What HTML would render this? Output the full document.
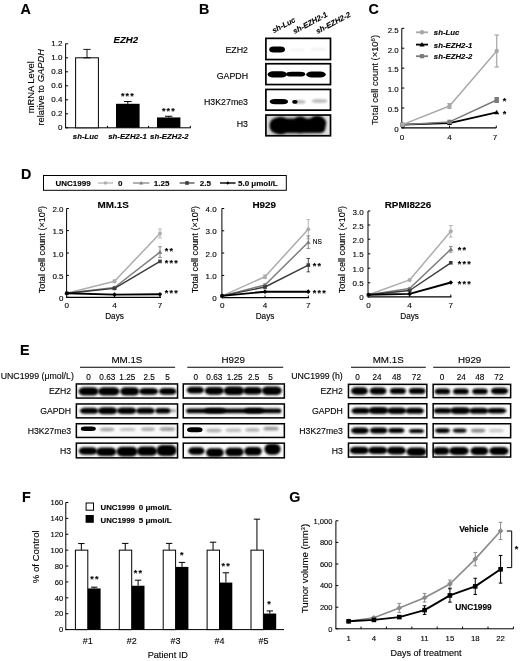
<!DOCTYPE html>
<html><head><meta charset="utf-8"><title>Figure</title>
<style>html,body{margin:0;padding:0;background:#fff;} svg{display:block;} text{font-family:"Liberation Sans", Arial, sans-serif;stroke:#000;stroke-width:0.12px;}</style>
</head><body>
<svg width="520" height="661" viewBox="0 0 520 661">
<defs>
<filter id="b0_6" x="-50%" y="-50%" width="200%" height="200%"><feGaussianBlur stdDeviation="0.6"/></filter>
<filter id="b0_7" x="-50%" y="-50%" width="200%" height="200%"><feGaussianBlur stdDeviation="0.7"/></filter>
<filter id="b0_8" x="-50%" y="-50%" width="200%" height="200%"><feGaussianBlur stdDeviation="0.8"/></filter>
<filter id="b0_9" x="-50%" y="-50%" width="200%" height="200%"><feGaussianBlur stdDeviation="0.9"/></filter>
<filter id="b1_0" x="-50%" y="-50%" width="200%" height="200%"><feGaussianBlur stdDeviation="1.0"/></filter>
<filter id="b1_2" x="-50%" y="-50%" width="200%" height="200%"><feGaussianBlur stdDeviation="1.2"/></filter>
<linearGradient id="h3bg" x1="0" y1="0" x2="1" y2="0"><stop offset="0" stop-color="#d8d8d8"/><stop offset="0.5" stop-color="#c8c8c8"/><stop offset="1" stop-color="#e4e4e4"/></linearGradient>
</defs>
<rect width="520" height="661" fill="#fff"/>
<text x="20.4" y="13.6" font-size="14.3" font-weight="bold">A</text>
<text x="113.6" y="42.7" font-size="9.6" font-weight="bold" font-style="italic">EZH2</text>
<line x1="65.6" y1="43.6" x2="65.6" y2="127.8" stroke="#000" stroke-width="1"/>
<line x1="65.6" y1="127.8" x2="68.1" y2="127.8" stroke="#000" stroke-width="1"/>
<text x="62.4" y="130.4" font-size="8.0" text-anchor="end">0</text>
<line x1="65.6" y1="113.8" x2="68.1" y2="113.8" stroke="#000" stroke-width="1"/>
<text x="62.4" y="116.4" font-size="8.0" text-anchor="end">0.2</text>
<line x1="65.6" y1="99.8" x2="68.1" y2="99.8" stroke="#000" stroke-width="1"/>
<text x="62.4" y="102.4" font-size="8.0" text-anchor="end">0.4</text>
<line x1="65.6" y1="85.8" x2="68.1" y2="85.8" stroke="#000" stroke-width="1"/>
<text x="62.4" y="88.4" font-size="8.0" text-anchor="end">0.6</text>
<line x1="65.6" y1="71.8" x2="68.1" y2="71.8" stroke="#000" stroke-width="1"/>
<text x="62.4" y="74.4" font-size="8.0" text-anchor="end">0.8</text>
<line x1="65.6" y1="57.8" x2="68.1" y2="57.8" stroke="#000" stroke-width="1"/>
<text x="62.4" y="60.4" font-size="8.0" text-anchor="end">1.0</text>
<line x1="65.6" y1="43.8" x2="68.1" y2="43.8" stroke="#000" stroke-width="1"/>
<text x="62.4" y="46.4" font-size="8.0" text-anchor="end">1.2</text>
<line x1="65.1" y1="127.8" x2="190.8" y2="127.8" stroke="#000" stroke-width="1"/>
<line x1="107.5" y1="127.8" x2="107.5" y2="125.8" stroke="#000" stroke-width="1"/>
<line x1="148.5" y1="127.8" x2="148.5" y2="125.8" stroke="#000" stroke-width="1"/>
<line x1="190.3" y1="127.8" x2="190.3" y2="125.8" stroke="#000" stroke-width="1"/>
<rect x="75.6" y="57.8" width="22.8" height="70.0" fill="#fff" stroke="#000" stroke-width="1"/>
<line x1="87.0" y1="57.8" x2="87.0" y2="49.39999999999999" stroke="#000" stroke-width="0.9"/>
<line x1="83.4" y1="57.8" x2="90.6" y2="57.8" stroke="#000" stroke-width="0.9"/>
<line x1="83.4" y1="49.39999999999999" x2="90.6" y2="49.39999999999999" stroke="#000" stroke-width="0.9"/>
<rect x="116.0" y="103.78999999999999" width="23.6" height="24.01" fill="#000" stroke="none" stroke-width="1"/>
<line x1="127.8" y1="103.78999999999999" x2="127.8" y2="101.55" stroke="#000" stroke-width="1"/>
<line x1="124.0" y1="101.55" x2="131.6" y2="101.55" stroke="#000" stroke-width="1"/>
<rect x="157.0" y="117.44" width="23.4" height="10.36" fill="#000" stroke="none" stroke-width="1"/>
<line x1="168.7" y1="117.44" x2="168.7" y2="116.25" stroke="#000" stroke-width="1"/>
<line x1="165.0" y1="116.25" x2="172.4" y2="116.25" stroke="#000" stroke-width="1"/>
<text x="122.7" y="99.3" font-size="9.0" font-weight="bold" text-anchor="middle">*</text>
<text x="127.3" y="99.3" font-size="9.0" font-weight="bold" text-anchor="middle">*</text>
<text x="131.9" y="99.3" font-size="9.0" font-weight="bold" text-anchor="middle">*</text>
<text x="163.7" y="113.7" font-size="9.0" font-weight="bold" text-anchor="middle">*</text>
<text x="168.3" y="113.7" font-size="9.0" font-weight="bold" text-anchor="middle">*</text>
<text x="172.9" y="113.7" font-size="9.0" font-weight="bold" text-anchor="middle">*</text>
<text x="85.6" y="139.2" font-size="7.8" font-weight="bold" font-style="italic" text-anchor="middle">sh-Luc</text>
<text x="127.5" y="139.2" font-size="7.8" font-weight="bold" font-style="italic" text-anchor="middle">sh-EZH2-1</text>
<text x="169.4" y="139.2" font-size="7.8" font-weight="bold" font-style="italic" text-anchor="middle">sh-EZH2-2</text>
<text transform="translate(34.4,87.3) rotate(-90)" font-size="9.4" text-anchor="middle">mRNA Level</text>
<text transform="translate(43.9,87.3) rotate(-90)" font-size="9.4" text-anchor="middle">relative to <tspan font-style="italic">GAPDH</tspan></text>
<text x="198.9" y="13.6" font-size="14.3" font-weight="bold">B</text>
<text x="248.0" y="53.3" font-size="8.8" text-anchor="end">EZH2</text>
<text x="248.0" y="79.0" font-size="8.8" text-anchor="end">GAPDH</text>
<text x="248.0" y="104.7" font-size="8.8" text-anchor="end">H3K27me3</text>
<text x="248.0" y="127.4" font-size="8.8" text-anchor="end">H3</text>
<text transform="translate(273.8,33.3) rotate(-28)" font-size="7.7" font-weight="bold" font-style="italic">sh-Luc</text>
<text transform="translate(294.5,34.1) rotate(-28)" font-size="7.7" font-weight="bold" font-style="italic">sh-EZH2-1</text>
<text transform="translate(317.6,34.1) rotate(-28)" font-size="7.7" font-weight="bold" font-style="italic">sh-EZH2-2</text>
<rect x="265.5" y="114.6" width="65.5" height="21.6" fill="url(#h3bg)"/>
<rect x="269.2" y="46.5" width="15.8" height="6.0" rx="4.4" ry="3.0" fill="#000" opacity="1" filter="url(#b0_7)"/>
<rect x="290.0" y="48.4" width="15.0" height="2.5" rx="4.2" ry="1.2" fill="#000" opacity="0.05" filter="url(#b0_8)"/>
<rect x="310.0" y="48.1" width="16.0" height="2.5" rx="4.5" ry="1.2" fill="#000" opacity="0.06" filter="url(#b0_8)"/>
<rect x="267.6" y="71.3" width="19.4" height="6.2" rx="5.4" ry="3.1" fill="#000" opacity="1" filter="url(#b0_7)"/>
<rect x="286.2" y="71.8" width="19.0" height="4.8" rx="5.3" ry="2.4" fill="#000" opacity="1" filter="url(#b0_7)"/>
<rect x="306.2" y="71.5" width="19.6" height="6.0" rx="5.5" ry="3.0" fill="#000" opacity="1" filter="url(#b0_7)"/>
<rect x="269.8" y="98.9" width="18.2" height="5.4" rx="5.1" ry="2.7" fill="#000" opacity="1" filter="url(#b0_7)"/>
<rect x="292.2" y="99.9" width="5.4" height="3.8" rx="1.9" ry="1.9" fill="#000" opacity="1" filter="url(#b0_6)"/>
<rect x="294.0" y="100.2" width="11.5" height="3.2" rx="3.2" ry="1.6" fill="#000" opacity="0.3" filter="url(#b0_9)"/>
<rect x="311.8" y="99.3" width="15.6" height="3.4" rx="4.4" ry="1.7" fill="#000" opacity="0.28" filter="url(#b1_0)"/>
<g filter="url(#b1_0)">
<rect x="270.4" y="118.4" width="55.0" height="14.6" rx="5" fill="#000"/>
<ellipse cx="280.5" cy="125.6" rx="11" ry="8.8" fill="#000"/>
<ellipse cx="300.2" cy="125.0" rx="8.8" ry="8.4" fill="#000"/>
<ellipse cx="317.2" cy="123.6" rx="9.0" ry="7.8" fill="#000"/>
</g>
<rect x="265.9" y="38.35" width="64.6" height="21.2" fill="none" stroke="#000" stroke-width="1.7"/>
<rect x="265.9" y="63.75" width="64.6" height="20.800000000000008" fill="none" stroke="#000" stroke-width="1.7"/>
<rect x="265.9" y="89.44999999999999" width="64.6" height="20.700000000000006" fill="none" stroke="#000" stroke-width="1.7"/>
<rect x="265.9" y="115.05" width="64.6" height="20.699999999999992" fill="none" stroke="#000" stroke-width="1.7"/>
<text x="368.4" y="13.6" font-size="14.3" font-weight="bold">C</text>
<line x1="401.8" y1="28.3" x2="401.8" y2="127.9" stroke="#000" stroke-width="1"/>
<line x1="401.8" y1="127.9" x2="404.3" y2="127.9" stroke="#000" stroke-width="1"/>
<text x="398.7" y="132.2" font-size="7.9" text-anchor="end">0</text>
<line x1="401.8" y1="107.98" x2="404.3" y2="107.98" stroke="#000" stroke-width="1"/>
<text x="398.7" y="112.28" font-size="7.9" text-anchor="end">0.5</text>
<line x1="401.8" y1="88.06" x2="404.3" y2="88.06" stroke="#000" stroke-width="1"/>
<text x="398.7" y="92.36" font-size="7.9" text-anchor="end">1.0</text>
<line x1="401.8" y1="68.14" x2="404.3" y2="68.14" stroke="#000" stroke-width="1"/>
<text x="398.7" y="72.44" font-size="7.9" text-anchor="end">1.5</text>
<line x1="401.8" y1="48.22" x2="404.3" y2="48.22" stroke="#000" stroke-width="1"/>
<text x="398.7" y="52.52" font-size="7.9" text-anchor="end">2.0</text>
<line x1="401.8" y1="28.299999999999997" x2="404.3" y2="28.299999999999997" stroke="#000" stroke-width="1"/>
<text x="398.7" y="32.6" font-size="7.9" text-anchor="end">2.5</text>
<line x1="401.3" y1="127.9" x2="496.2" y2="127.9" stroke="#000" stroke-width="1.1"/>
<line x1="449.5" y1="127.9" x2="449.5" y2="125.7" stroke="#000" stroke-width="1"/>
<line x1="496.3" y1="127.9" x2="496.3" y2="125.7" stroke="#000" stroke-width="1"/>
<text x="402.0" y="140.0" font-size="8.0" text-anchor="middle">0</text>
<text x="449.4" y="140.0" font-size="8.0" text-anchor="middle">4</text>
<text x="494.9" y="140.0" font-size="8.0" text-anchor="middle">7</text>
<text transform="translate(378.0,80) rotate(-90)" font-size="9.4" text-anchor="middle">Total cell count (×10<tspan font-size="6" dy="-3.3">6</tspan><tspan dy="3.3">)</tspan></text>
<polyline points="402.4,124.7 449.5,123.1 496.7,112.4" fill="none" stroke="#000" stroke-width="1.75" stroke-linejoin="round"/>
<polygon points="402.4,122.2 404.9,126.6 399.9,126.6" fill="#000"/>
<polygon points="449.5,120.6 452.0,125.0 447.0,125.0" fill="#000"/>
<polygon points="496.7,109.8 499.2,114.2 494.2,114.2" fill="#000"/>
<polyline points="402.4,124.7 449.5,121.9 496.7,100.0" fill="none" stroke="#7a7a7a" stroke-width="1.45" stroke-linejoin="round"/>
<rect x="400.2" y="122.5" width="4.4" height="4.4" fill="#7a7a7a"/>
<rect x="447.3" y="119.7" width="4.4" height="4.4" fill="#7a7a7a"/>
<line x1="496.7" y1="97.6216" x2="496.7" y2="102.4024" stroke="#7a7a7a" stroke-width="1.25"/>
<line x1="494.5" y1="97.6216" x2="498.9" y2="97.6216" stroke="#7a7a7a" stroke-width="1.25"/>
<line x1="494.5" y1="102.4024" x2="498.9" y2="102.4024" stroke="#7a7a7a" stroke-width="1.25"/>
<rect x="494.5" y="97.8" width="4.4" height="4.4" fill="#7a7a7a"/>
<polyline points="402.4,124.7 449.5,106.0 496.7,51.0" fill="none" stroke="#a8a8a8" stroke-width="1.45" stroke-linejoin="round"/>
<circle cx="402.4" cy="124.7" r="2.2" fill="#a8a8a8"/>
<line x1="449.5" y1="103.5976" x2="449.5" y2="108.3784" stroke="#a8a8a8" stroke-width="1.25"/>
<line x1="447.3" y1="103.5976" x2="451.7" y2="103.5976" stroke="#a8a8a8" stroke-width="1.25"/>
<line x1="447.3" y1="108.3784" x2="451.7" y2="108.3784" stroke="#a8a8a8" stroke-width="1.25"/>
<circle cx="449.5" cy="106.0" r="2.2" fill="#a8a8a8"/>
<line x1="496.7" y1="35.07280000000001" x2="496.7" y2="66.94480000000001" stroke="#a8a8a8" stroke-width="1.25"/>
<line x1="494.5" y1="35.07280000000001" x2="498.9" y2="35.07280000000001" stroke="#a8a8a8" stroke-width="1.25"/>
<line x1="494.5" y1="66.94480000000001" x2="498.9" y2="66.94480000000001" stroke="#a8a8a8" stroke-width="1.25"/>
<circle cx="496.7" cy="51.0" r="2.2" fill="#a8a8a8"/>
<line x1="416.0" y1="32.3" x2="428.0" y2="32.3" stroke="#a8a8a8" stroke-width="1.8"/>
<circle cx="422.0" cy="32.3" r="2.3" fill="#a8a8a8"/>
<line x1="416.0" y1="44.6" x2="428.0" y2="44.6" stroke="#000" stroke-width="1.8"/>
<polygon points="422.0,42.0 424.6,46.6 419.4,46.6" fill="#000"/>
<line x1="416.0" y1="56.2" x2="428.0" y2="56.2" stroke="#7a7a7a" stroke-width="1.8"/>
<rect x="419.9" y="54.1" width="4.2" height="4.2" fill="#7a7a7a"/>
<text x="433.8" y="34.5" font-size="7.8" font-weight="bold" font-style="italic">sh-Luc</text>
<text x="433.8" y="47.5" font-size="7.8" font-weight="bold" font-style="italic">sh-EZH2-1</text>
<text x="433.8" y="58.8" font-size="7.8" font-weight="bold" font-style="italic">sh-EZH2-2</text>
<text x="504.5" y="104.0" font-size="9.0" font-weight="bold" text-anchor="middle">*</text>
<text x="504.5" y="116.5" font-size="9.0" font-weight="bold" text-anchor="middle">*</text>
<text x="21.0" y="178.8" font-size="14.3" font-weight="bold">D</text>
<rect x="43.5" y="175.5" width="242.8" height="14.8" fill="none" stroke="#000" stroke-width="1"/>
<text x="55.5" y="186.0" font-size="8.0" font-weight="bold">UNC1999</text>
<line x1="98.0" y1="183.0" x2="113.0" y2="183.0" stroke="#adadad" stroke-width="1.2"/>
<circle cx="105.5" cy="183.0" r="1.7" fill="#adadad"/>
<text x="118.0" y="186.0" font-size="8.0" font-weight="bold">0</text>
<line x1="133.0" y1="183.0" x2="149.3" y2="183.0" stroke="#7d7d7d" stroke-width="1.2"/>
<polygon points="141.2,181.0 143.1,184.4 139.2,184.4" fill="#7d7d7d"/>
<text x="153.8" y="186.0" font-size="8.0" font-weight="bold">1.25</text>
<line x1="179.6" y1="183.0" x2="194.5" y2="183.0" stroke="#3c3c3c" stroke-width="1.2"/>
<rect x="185.2" y="181.2" width="3.6" height="3.6" fill="#3c3c3c"/>
<text x="199.8" y="186.0" font-size="8.0" font-weight="bold">2.5</text>
<line x1="220.0" y1="183.0" x2="235.6" y2="183.0" stroke="#000" stroke-width="1.4"/>
<polygon points="227.8,181.3 229.5,183.0 227.8,184.7 226.1,183.0" fill="#000"/>
<text x="238.0" y="186.0" font-size="8.0" font-weight="bold">5.0 μmol/L</text>
<line x1="66.6" y1="208.5" x2="66.6" y2="297.3" stroke="#000" stroke-width="1"/>
<line x1="66.6" y1="297.3" x2="68.89999999999999" y2="297.3" stroke="#000" stroke-width="1"/>
<text x="63.5" y="300.9" font-size="8.0" text-anchor="end">0</text>
<line x1="66.6" y1="275.4" x2="68.89999999999999" y2="275.4" stroke="#000" stroke-width="1"/>
<text x="63.5" y="279.0" font-size="8.0" text-anchor="end">0.5</text>
<line x1="66.6" y1="253.0" x2="68.89999999999999" y2="253.0" stroke="#000" stroke-width="1"/>
<text x="63.5" y="256.6" font-size="8.0" text-anchor="end">1.0</text>
<line x1="66.6" y1="230.6" x2="68.89999999999999" y2="230.6" stroke="#000" stroke-width="1"/>
<text x="63.5" y="234.2" font-size="8.0" text-anchor="end">1.5</text>
<line x1="66.6" y1="208.5" x2="68.89999999999999" y2="208.5" stroke="#000" stroke-width="1"/>
<text x="63.5" y="212.1" font-size="8.0" text-anchor="end">2.0</text>
<line x1="66.1" y1="297.3" x2="161.0" y2="297.3" stroke="#000" stroke-width="1.3"/>
<line x1="114.5" y1="297.3" x2="114.5" y2="295.1" stroke="#000" stroke-width="1"/>
<line x1="160.0" y1="297.3" x2="160.0" y2="295.1" stroke="#000" stroke-width="1"/>
<text x="66.8" y="308.4" font-size="8.1" text-anchor="middle">0</text>
<text x="114.5" y="308.4" font-size="8.1" text-anchor="middle">4</text>
<text x="160.0" y="308.4" font-size="8.1" text-anchor="middle">7</text>
<text x="114.5" y="319.4" font-size="8.2" text-anchor="middle">Days</text>
<text transform="translate(45.4,249.6) rotate(-90)" font-size="9.1" text-anchor="middle">Total cell count (×10<tspan font-size="5.8" dy="-3.2">6</tspan><tspan dy="3.2">)</tspan></text>
<text x="97.6" y="208.2" font-size="9.9" font-weight="bold">MM.1S</text>
<polyline points="66.8,293.3 114.5,281.3 160.0,233.4" fill="none" stroke="#adadad" stroke-width="1.5" stroke-linejoin="round"/>
<line x1="114.5" y1="280.00350000000003" x2="114.5" y2="282.6645" stroke="#adadad" stroke-width="0.9"/>
<line x1="112.7" y1="280.00350000000003" x2="116.3" y2="280.00350000000003" stroke="#adadad" stroke-width="0.9"/>
<line x1="112.7" y1="282.6645" x2="116.3" y2="282.6645" stroke="#adadad" stroke-width="0.9"/>
<line x1="160.0" y1="229.001" x2="160.0" y2="237.871" stroke="#adadad" stroke-width="0.9"/>
<line x1="158.2" y1="229.001" x2="161.8" y2="229.001" stroke="#adadad" stroke-width="0.9"/>
<line x1="158.2" y1="237.871" x2="161.8" y2="237.871" stroke="#adadad" stroke-width="0.9"/>
<circle cx="66.8" cy="293.3" r="2.0" fill="#adadad"/>
<circle cx="114.5" cy="281.3" r="2.0" fill="#adadad"/>
<circle cx="160.0" cy="233.4" r="2.0" fill="#adadad"/>
<polyline points="66.8,293.3 114.5,287.5 160.0,252.1" fill="none" stroke="#7d7d7d" stroke-width="1.5" stroke-linejoin="round"/>
<line x1="114.5" y1="286.656" x2="114.5" y2="288.43" stroke="#7d7d7d" stroke-width="0.9"/>
<line x1="112.7" y1="286.656" x2="116.3" y2="286.656" stroke="#7d7d7d" stroke-width="0.9"/>
<line x1="112.7" y1="288.43" x2="116.3" y2="288.43" stroke="#7d7d7d" stroke-width="0.9"/>
<line x1="160.0" y1="246.741" x2="160.0" y2="257.385" stroke="#7d7d7d" stroke-width="0.9"/>
<line x1="158.2" y1="246.741" x2="161.8" y2="246.741" stroke="#7d7d7d" stroke-width="0.9"/>
<line x1="158.2" y1="257.385" x2="161.8" y2="257.385" stroke="#7d7d7d" stroke-width="0.9"/>
<polygon points="66.8,291.0 69.1,295.0 64.5,295.0" fill="#7d7d7d"/>
<polygon points="114.5,285.2 116.8,289.2 112.2,289.2" fill="#7d7d7d"/>
<polygon points="160.0,249.8 162.3,253.8 157.7,253.8" fill="#7d7d7d"/>
<polyline points="66.8,293.3 114.5,288.4 160.0,261.4" fill="none" stroke="#3c3c3c" stroke-width="1.45" stroke-linejoin="round"/>
<line x1="114.5" y1="287.543" x2="114.5" y2="289.317" stroke="#3c3c3c" stroke-width="0.9"/>
<line x1="112.7" y1="287.543" x2="116.3" y2="287.543" stroke="#3c3c3c" stroke-width="0.9"/>
<line x1="112.7" y1="289.317" x2="116.3" y2="289.317" stroke="#3c3c3c" stroke-width="0.9"/>
<rect x="65.0" y="291.5" width="3.6" height="3.6" fill="#3c3c3c"/>
<rect x="112.7" y="286.6" width="3.6" height="3.6" fill="#3c3c3c"/>
<rect x="158.2" y="259.6" width="3.6" height="3.6" fill="#3c3c3c"/>
<polyline points="66.8,293.3 114.5,294.6 160.0,294.2" fill="none" stroke="#000" stroke-width="1.9" stroke-linejoin="round"/>
<polygon points="66.8,291.0 69.1,293.3 66.8,295.6 64.5,293.3" fill="#000"/>
<polygon points="114.5,292.3 116.8,294.6 114.5,297.0 112.2,294.6" fill="#000"/>
<polygon points="160.0,291.9 162.3,294.2 160.0,296.5 157.7,294.2" fill="#000"/>
<text x="166.5" y="254.1" font-size="9.0" font-weight="bold" text-anchor="middle">*</text>
<text x="171.25" y="254.1" font-size="9.0" font-weight="bold" text-anchor="middle">*</text>
<text x="166.5" y="266.1" font-size="9.0" font-weight="bold" text-anchor="middle">*</text>
<text x="171.25" y="266.1" font-size="9.0" font-weight="bold" text-anchor="middle">*</text>
<text x="176.0" y="266.1" font-size="9.0" font-weight="bold" text-anchor="middle">*</text>
<text x="166.5" y="296.4" font-size="9.0" font-weight="bold" text-anchor="middle">*</text>
<text x="171.25" y="296.4" font-size="9.0" font-weight="bold" text-anchor="middle">*</text>
<text x="176.0" y="296.4" font-size="9.0" font-weight="bold" text-anchor="middle">*</text>
<line x1="221.9" y1="208.5" x2="221.9" y2="297.7" stroke="#000" stroke-width="1"/>
<line x1="221.9" y1="297.7" x2="224.20000000000002" y2="297.7" stroke="#000" stroke-width="1"/>
<text x="216.6" y="301.3" font-size="8.0" text-anchor="end">0</text>
<line x1="221.9" y1="275.4" x2="224.20000000000002" y2="275.4" stroke="#000" stroke-width="1"/>
<text x="216.6" y="279.0" font-size="8.0" text-anchor="end">1.0</text>
<line x1="221.9" y1="253.0" x2="224.20000000000002" y2="253.0" stroke="#000" stroke-width="1"/>
<text x="216.6" y="256.6" font-size="8.0" text-anchor="end">2.0</text>
<line x1="221.9" y1="230.8" x2="224.20000000000002" y2="230.8" stroke="#000" stroke-width="1"/>
<text x="216.6" y="234.4" font-size="8.0" text-anchor="end">3.0</text>
<line x1="221.9" y1="208.5" x2="224.20000000000002" y2="208.5" stroke="#000" stroke-width="1"/>
<text x="216.6" y="212.1" font-size="8.0" text-anchor="end">4.0</text>
<line x1="221.4" y1="297.7" x2="309.0" y2="297.7" stroke="#000" stroke-width="1.3"/>
<line x1="265.0" y1="297.7" x2="265.0" y2="295.5" stroke="#000" stroke-width="1"/>
<line x1="308.3" y1="297.7" x2="308.3" y2="295.5" stroke="#000" stroke-width="1"/>
<text x="222.2" y="308.4" font-size="8.1" text-anchor="middle">0</text>
<text x="265.0" y="308.4" font-size="8.1" text-anchor="middle">4</text>
<text x="308.3" y="308.4" font-size="8.1" text-anchor="middle">7</text>
<text x="265.0" y="319.4" font-size="8.2" text-anchor="middle">Days</text>
<text transform="translate(198.4,249.6) rotate(-90)" font-size="9.1" text-anchor="middle">Total cell count (×10<tspan font-size="5.8" dy="-3.2">6</tspan><tspan dy="3.2">)</tspan></text>
<text x="252.4" y="208.2" font-size="9.9" font-weight="bold">H929</text>
<polyline points="222.2,295.9 265.0,276.7 308.3,229.2" fill="none" stroke="#adadad" stroke-width="1.5" stroke-linejoin="round"/>
<line x1="265.0" y1="274.954" x2="265.0" y2="278.522" stroke="#adadad" stroke-width="0.9"/>
<line x1="263.2" y1="274.954" x2="266.8" y2="274.954" stroke="#adadad" stroke-width="0.9"/>
<line x1="263.2" y1="278.522" x2="266.8" y2="278.522" stroke="#adadad" stroke-width="0.9"/>
<line x1="308.3" y1="219.64999999999998" x2="308.3" y2="238.82799999999997" stroke="#adadad" stroke-width="0.9"/>
<line x1="306.5" y1="219.64999999999998" x2="310.1" y2="219.64999999999998" stroke="#adadad" stroke-width="0.9"/>
<line x1="306.5" y1="238.82799999999997" x2="310.1" y2="238.82799999999997" stroke="#adadad" stroke-width="0.9"/>
<circle cx="222.2" cy="295.9" r="2.0" fill="#adadad"/>
<circle cx="265.0" cy="276.7" r="2.0" fill="#adadad"/>
<circle cx="308.3" cy="229.2" r="2.0" fill="#adadad"/>
<polyline points="222.2,295.9 265.0,285.0 308.3,242.2" fill="none" stroke="#7d7d7d" stroke-width="1.5" stroke-linejoin="round"/>
<line x1="265.0" y1="283.87399999999997" x2="265.0" y2="286.104" stroke="#7d7d7d" stroke-width="0.9"/>
<line x1="263.2" y1="283.87399999999997" x2="266.8" y2="283.87399999999997" stroke="#7d7d7d" stroke-width="0.9"/>
<line x1="263.2" y1="286.104" x2="266.8" y2="286.104" stroke="#7d7d7d" stroke-width="0.9"/>
<line x1="308.3" y1="235.92899999999997" x2="308.3" y2="248.41699999999997" stroke="#7d7d7d" stroke-width="0.9"/>
<line x1="306.5" y1="235.92899999999997" x2="310.1" y2="235.92899999999997" stroke="#7d7d7d" stroke-width="0.9"/>
<line x1="306.5" y1="248.41699999999997" x2="310.1" y2="248.41699999999997" stroke="#7d7d7d" stroke-width="0.9"/>
<polygon points="222.2,293.6 224.5,297.6 219.9,297.6" fill="#7d7d7d"/>
<polygon points="265.0,282.7 267.3,286.7 262.7,286.7" fill="#7d7d7d"/>
<polygon points="308.3,239.9 310.6,243.9 306.0,243.9" fill="#7d7d7d"/>
<polyline points="222.2,295.9 265.0,287.0 308.3,265.1" fill="none" stroke="#3c3c3c" stroke-width="1.45" stroke-linejoin="round"/>
<line x1="265.0" y1="285.881" x2="265.0" y2="288.111" stroke="#3c3c3c" stroke-width="0.9"/>
<line x1="263.2" y1="285.881" x2="266.8" y2="285.881" stroke="#3c3c3c" stroke-width="0.9"/>
<line x1="263.2" y1="288.111" x2="266.8" y2="288.111" stroke="#3c3c3c" stroke-width="0.9"/>
<line x1="308.3" y1="258.452" x2="308.3" y2="271.832" stroke="#3c3c3c" stroke-width="0.9"/>
<line x1="306.5" y1="258.452" x2="310.1" y2="258.452" stroke="#3c3c3c" stroke-width="0.9"/>
<line x1="306.5" y1="271.832" x2="310.1" y2="271.832" stroke="#3c3c3c" stroke-width="0.9"/>
<rect x="220.4" y="294.1" width="3.6" height="3.6" fill="#3c3c3c"/>
<rect x="263.2" y="285.2" width="3.6" height="3.6" fill="#3c3c3c"/>
<rect x="306.5" y="263.3" width="3.6" height="3.6" fill="#3c3c3c"/>
<polyline points="222.2,295.9 265.0,291.7 308.3,291.7" fill="none" stroke="#000" stroke-width="1.9" stroke-linejoin="round"/>
<polygon points="222.2,293.6 224.5,295.9 222.2,298.3 219.9,295.9" fill="#000"/>
<polygon points="265.0,289.3 267.3,291.7 265.0,294.0 262.7,291.7" fill="#000"/>
<polygon points="308.3,289.3 310.6,291.7 308.3,294.0 306.0,291.7" fill="#000"/>
<text x="312.7" y="244.0" font-size="6.6">NS</text>
<text x="314.5" y="269.0" font-size="9.0" font-weight="bold" text-anchor="middle">*</text>
<text x="319.25" y="269.0" font-size="9.0" font-weight="bold" text-anchor="middle">*</text>
<text x="314.5" y="295.6" font-size="9.0" font-weight="bold" text-anchor="middle">*</text>
<text x="319.25" y="295.6" font-size="9.0" font-weight="bold" text-anchor="middle">*</text>
<text x="324.0" y="295.6" font-size="9.0" font-weight="bold" text-anchor="middle">*</text>
<line x1="368.0" y1="211.0" x2="368.0" y2="296.8" stroke="#000" stroke-width="1"/>
<line x1="368.0" y1="296.8" x2="370.3" y2="296.8" stroke="#000" stroke-width="1"/>
<text x="363.6" y="300.4" font-size="8.0" text-anchor="end">0</text>
<line x1="368.0" y1="282.8" x2="370.3" y2="282.8" stroke="#000" stroke-width="1"/>
<text x="363.6" y="286.4" font-size="8.0" text-anchor="end">0.5</text>
<line x1="368.0" y1="268.2" x2="370.3" y2="268.2" stroke="#000" stroke-width="1"/>
<text x="363.6" y="271.8" font-size="8.0" text-anchor="end">1.0</text>
<line x1="368.0" y1="253.8" x2="370.3" y2="253.8" stroke="#000" stroke-width="1"/>
<text x="363.6" y="257.4" font-size="8.0" text-anchor="end">1.5</text>
<line x1="368.0" y1="239.2" x2="370.3" y2="239.2" stroke="#000" stroke-width="1"/>
<text x="363.6" y="242.8" font-size="8.0" text-anchor="end">2.0</text>
<line x1="368.0" y1="225.0" x2="370.3" y2="225.0" stroke="#000" stroke-width="1"/>
<text x="363.6" y="228.6" font-size="8.0" text-anchor="end">2.5</text>
<line x1="368.0" y1="211.0" x2="370.3" y2="211.0" stroke="#000" stroke-width="1"/>
<text x="363.6" y="214.6" font-size="8.0" text-anchor="end">3.0</text>
<line x1="367.5" y1="296.8" x2="451.5" y2="296.8" stroke="#000" stroke-width="1.3"/>
<line x1="409.6" y1="296.8" x2="409.6" y2="294.6" stroke="#000" stroke-width="1"/>
<line x1="450.8" y1="296.8" x2="450.8" y2="294.6" stroke="#000" stroke-width="1"/>
<text x="368.6" y="308.4" font-size="8.1" text-anchor="middle">0</text>
<text x="409.6" y="308.4" font-size="8.1" text-anchor="middle">4</text>
<text x="450.8" y="308.4" font-size="8.1" text-anchor="middle">7</text>
<text x="409.6" y="319.4" font-size="8.2" text-anchor="middle">Days</text>
<text transform="translate(345.4,249.6) rotate(-90)" font-size="9.1" text-anchor="middle">Total cell count (×10<tspan font-size="5.8" dy="-3.2">6</tspan><tspan dy="3.2">)</tspan></text>
<text x="384.7" y="208.2" font-size="9.9" font-weight="bold">RPMI8226</text>
<polyline points="368.6,294.8 409.6,279.9 450.8,231.3" fill="none" stroke="#adadad" stroke-width="1.5" stroke-linejoin="round"/>
<line x1="409.6" y1="279.068" x2="409.6" y2="280.784" stroke="#adadad" stroke-width="0.9"/>
<line x1="407.8" y1="279.068" x2="411.40000000000003" y2="279.068" stroke="#adadad" stroke-width="0.9"/>
<line x1="407.8" y1="280.784" x2="411.40000000000003" y2="280.784" stroke="#adadad" stroke-width="0.9"/>
<line x1="450.8" y1="225.586" x2="450.8" y2="237.026" stroke="#adadad" stroke-width="0.9"/>
<line x1="449.0" y1="225.586" x2="452.6" y2="225.586" stroke="#adadad" stroke-width="0.9"/>
<line x1="449.0" y1="237.026" x2="452.6" y2="237.026" stroke="#adadad" stroke-width="0.9"/>
<circle cx="368.6" cy="294.8" r="2.0" fill="#adadad"/>
<circle cx="409.6" cy="279.9" r="2.0" fill="#adadad"/>
<circle cx="450.8" cy="231.3" r="2.0" fill="#adadad"/>
<polyline points="368.6,294.8 409.6,288.5 450.8,249.3" fill="none" stroke="#7d7d7d" stroke-width="1.5" stroke-linejoin="round"/>
<line x1="409.6" y1="287.648" x2="409.6" y2="289.36400000000003" stroke="#7d7d7d" stroke-width="0.9"/>
<line x1="407.8" y1="287.648" x2="411.40000000000003" y2="287.648" stroke="#7d7d7d" stroke-width="0.9"/>
<line x1="407.8" y1="289.36400000000003" x2="411.40000000000003" y2="289.36400000000003" stroke="#7d7d7d" stroke-width="0.9"/>
<line x1="450.8" y1="246.464" x2="450.8" y2="252.18400000000003" stroke="#7d7d7d" stroke-width="0.9"/>
<line x1="449.0" y1="246.464" x2="452.6" y2="246.464" stroke="#7d7d7d" stroke-width="0.9"/>
<line x1="449.0" y1="252.18400000000003" x2="452.6" y2="252.18400000000003" stroke="#7d7d7d" stroke-width="0.9"/>
<polygon points="368.6,292.5 370.9,296.5 366.3,296.5" fill="#7d7d7d"/>
<polygon points="409.6,286.2 411.9,290.2 407.3,290.2" fill="#7d7d7d"/>
<polygon points="450.8,247.0 453.1,251.0 448.5,251.0" fill="#7d7d7d"/>
<polyline points="368.6,294.8 409.6,290.5 450.8,262.8" fill="none" stroke="#3c3c3c" stroke-width="1.45" stroke-linejoin="round"/>
<line x1="409.6" y1="289.93600000000004" x2="409.6" y2="291.08000000000004" stroke="#3c3c3c" stroke-width="0.9"/>
<line x1="407.8" y1="289.93600000000004" x2="411.40000000000003" y2="289.93600000000004" stroke="#3c3c3c" stroke-width="0.9"/>
<line x1="407.8" y1="291.08000000000004" x2="411.40000000000003" y2="291.08000000000004" stroke="#3c3c3c" stroke-width="0.9"/>
<rect x="366.8" y="293.0" width="3.6" height="3.6" fill="#3c3c3c"/>
<rect x="407.8" y="288.7" width="3.6" height="3.6" fill="#3c3c3c"/>
<rect x="449.0" y="261.0" width="3.6" height="3.6" fill="#3c3c3c"/>
<polyline points="368.6,294.8 409.6,293.9 450.8,282.5" fill="none" stroke="#000" stroke-width="1.9" stroke-linejoin="round"/>
<polygon points="368.6,292.5 370.9,294.8 368.6,297.1 366.3,294.8" fill="#000"/>
<polygon points="409.6,291.6 411.9,293.9 409.6,296.3 407.3,293.9" fill="#000"/>
<polygon points="450.8,280.2 453.1,282.5 450.8,284.8 448.5,282.5" fill="#000"/>
<text x="459.6" y="253.2" font-size="9.0" font-weight="bold" text-anchor="middle">*</text>
<text x="464.35" y="253.2" font-size="9.0" font-weight="bold" text-anchor="middle">*</text>
<text x="459.6" y="266.7" font-size="9.0" font-weight="bold" text-anchor="middle">*</text>
<text x="464.35" y="266.7" font-size="9.0" font-weight="bold" text-anchor="middle">*</text>
<text x="469.1" y="266.7" font-size="9.0" font-weight="bold" text-anchor="middle">*</text>
<text x="459.6" y="286.9" font-size="9.0" font-weight="bold" text-anchor="middle">*</text>
<text x="464.35" y="286.9" font-size="9.0" font-weight="bold" text-anchor="middle">*</text>
<text x="469.1" y="286.9" font-size="9.0" font-weight="bold" text-anchor="middle">*</text>
<text x="20.1" y="354.6" font-size="14.3" font-weight="bold">E</text>
<text x="73.8" y="379.2" font-size="8.75" text-anchor="end">UNC1999 (μmol/L)</text>
<text x="342.8" y="379.2" font-size="8.75" text-anchor="end">UNC1999 (h)</text>
<text x="71.1" y="394.2" font-size="8.7" text-anchor="end">EZH2</text>
<text x="342.8" y="394.2" font-size="8.7" text-anchor="end">EZH2</text>
<text x="71.1" y="414.4" font-size="8.7" text-anchor="end">GAPDH</text>
<text x="342.8" y="414.4" font-size="8.7" text-anchor="end">GAPDH</text>
<text x="71.1" y="434.4" font-size="8.7" text-anchor="end">H3K27me3</text>
<text x="342.8" y="434.4" font-size="8.7" text-anchor="end">H3K27me3</text>
<text x="71.1" y="454.4" font-size="8.7" text-anchor="end">H3</text>
<text x="342.8" y="454.4" font-size="8.7" text-anchor="end">H3</text>
<text x="126.9" y="362.7" font-size="9.8" text-anchor="middle">MM.1S</text>
<line x1="80.0" y1="367.2" x2="175.1" y2="367.2" stroke="#000" stroke-width="1.1"/>
<text x="233.2" y="362.7" font-size="9.8" text-anchor="middle">H929</text>
<line x1="187.3" y1="367.2" x2="283.2" y2="367.2" stroke="#000" stroke-width="1.1"/>
<text x="388.2" y="362.7" font-size="9.8" text-anchor="middle">MM.1S</text>
<line x1="351.0" y1="367.2" x2="425.8" y2="367.2" stroke="#000" stroke-width="1.1"/>
<text x="469.6" y="362.7" font-size="9.8" text-anchor="middle">H929</text>
<line x1="433.2" y1="367.2" x2="510.0" y2="367.2" stroke="#000" stroke-width="1.1"/>
<text x="88.5" y="380.3" font-size="8.2" text-anchor="middle">0</text>
<text x="107.3" y="380.3" font-size="8.2" text-anchor="middle">0.63</text>
<text x="127.3" y="380.3" font-size="8.2" text-anchor="middle">1.25</text>
<text x="149.1" y="380.3" font-size="8.2" text-anchor="middle">2.5</text>
<text x="167.5" y="380.3" font-size="8.2" text-anchor="middle">5</text>
<text x="195.9" y="380.3" font-size="8.2" text-anchor="middle">0</text>
<text x="214.3" y="380.3" font-size="8.2" text-anchor="middle">0.63</text>
<text x="234.7" y="380.3" font-size="8.2" text-anchor="middle">1.25</text>
<text x="253.6" y="380.3" font-size="8.2" text-anchor="middle">2.5</text>
<text x="270.5" y="380.3" font-size="8.2" text-anchor="middle">5</text>
<text x="357.5" y="380.3" font-size="8.2" text-anchor="middle">0</text>
<text x="377.0" y="380.3" font-size="8.2" text-anchor="middle">24</text>
<text x="396.5" y="380.3" font-size="8.2" text-anchor="middle">48</text>
<text x="416.4" y="380.3" font-size="8.2" text-anchor="middle">72</text>
<text x="442.0" y="380.3" font-size="8.2" text-anchor="middle">0</text>
<text x="461.2" y="380.3" font-size="8.2" text-anchor="middle">24</text>
<text x="479.7" y="380.3" font-size="8.2" text-anchor="middle">48</text>
<text x="498.9" y="380.3" font-size="8.2" text-anchor="middle">72</text>
<rect x="76.35" y="383.95" width="101.20000000000002" height="14.100000000000023" fill="#fafafa" stroke="#000" stroke-width="1.5"/>
<rect x="76.35" y="403.95" width="101.20000000000002" height="13.900000000000034" fill="#fafafa" stroke="#000" stroke-width="1.5"/>
<rect x="76.35" y="423.75" width="101.20000000000002" height="13.699999999999989" fill="#fafafa" stroke="#000" stroke-width="1.5"/>
<rect x="76.35" y="443.15" width="101.20000000000002" height="14.700000000000045" fill="#fafafa" stroke="#000" stroke-width="1.5"/>
<rect x="78.6" y="387.2" width="20.0" height="8.4" rx="5.6" ry="4.2" fill="#000" opacity="1" filter="url(#b0_8)"/>
<rect x="98.0" y="387.2" width="21.6" height="8.4" rx="6.0" ry="4.2" fill="#000" opacity="1" filter="url(#b0_8)"/>
<rect x="120.2" y="387.2" width="19.0" height="8.4" rx="5.3" ry="4.2" fill="#000" opacity="1" filter="url(#b0_8)"/>
<rect x="139.0" y="388.0" width="19.2" height="6.8" rx="5.4" ry="3.4" fill="#000" opacity="1" filter="url(#b0_8)"/>
<rect x="159.0" y="388.0" width="17.4" height="6.8" rx="4.9" ry="3.4" fill="#000" opacity="1" filter="url(#b0_8)"/>
<rect x="79.8" y="407.8" width="18.8" height="6.0" rx="5.3" ry="3.0" fill="#000" opacity="1" filter="url(#b0_8)"/>
<rect x="97.8" y="407.3" width="19.6" height="7.0" rx="5.5" ry="3.5" fill="#000" opacity="1" filter="url(#b0_8)"/>
<rect x="116.8" y="407.6" width="19.8" height="6.4" rx="5.5" ry="3.2" fill="#000" opacity="1" filter="url(#b0_8)"/>
<rect x="136.0" y="407.8" width="19.0" height="6.0" rx="5.3" ry="3.0" fill="#000" opacity="1" filter="url(#b0_8)"/>
<rect x="155.2" y="408.0" width="15.2" height="5.6" rx="4.3" ry="2.8" fill="#000" opacity="1" filter="url(#b0_8)"/>
<rect x="168.0" y="409.3" width="8.5" height="3.0" rx="2.4" ry="1.5" fill="#000" opacity="0.35" filter="url(#b0_9)"/>
<rect x="80.8" y="426.5" width="15.0" height="4.4" rx="4.2" ry="2.2" fill="#000" opacity="1" filter="url(#b0_7)"/>
<rect x="99.8" y="427.8" width="14.4" height="3.4" rx="4.0" ry="1.7" fill="#000" opacity="0.33" filter="url(#b0_9)"/>
<rect x="119.6" y="427.9" width="16.0" height="3.2" rx="4.5" ry="1.6" fill="#000" opacity="0.22" filter="url(#b0_9)"/>
<rect x="141.0" y="427.6" width="14.0" height="3.4" rx="3.9" ry="1.7" fill="#000" opacity="0.3" filter="url(#b0_9)"/>
<rect x="159.4" y="427.3" width="15.8" height="3.6" rx="4.4" ry="1.8" fill="#000" opacity="0.36" filter="url(#b0_9)"/>
<rect x="78.8" y="447.2" width="18.4" height="7.6" rx="5.2" ry="3.8" fill="#000" opacity="1" filter="url(#b0_9)"/>
<rect x="96.0" y="447.5" width="20.4" height="8.6" rx="5.7" ry="4.3" fill="#000" opacity="1" filter="url(#b0_9)"/>
<rect x="116.4" y="446.8" width="21.4" height="9.6" rx="6.0" ry="4.8" fill="#000" opacity="1" filter="url(#b0_9)"/>
<rect x="136.8" y="446.6" width="20.4" height="9.2" rx="5.7" ry="4.6" fill="#000" opacity="1" filter="url(#b0_9)"/>
<rect x="156.4" y="444.9" width="20.2" height="11.0" rx="5.7" ry="5.5" fill="#000" opacity="1" filter="url(#b0_9)"/>
<rect x="183.25" y="383.95" width="101.10000000000002" height="14.100000000000023" fill="#fafafa" stroke="#000" stroke-width="1.5"/>
<rect x="183.25" y="403.95" width="101.10000000000002" height="13.900000000000034" fill="#fafafa" stroke="#000" stroke-width="1.5"/>
<rect x="183.25" y="423.75" width="101.10000000000002" height="13.699999999999989" fill="#fafafa" stroke="#000" stroke-width="1.5"/>
<rect x="183.25" y="443.15" width="101.10000000000002" height="14.700000000000045" fill="#fafafa" stroke="#000" stroke-width="1.5"/>
<rect x="186.8" y="386.8" width="17.2" height="6.8" rx="4.8" ry="3.4" fill="#000" opacity="1" filter="url(#b0_8)"/>
<rect x="204.6" y="386.9" width="19.4" height="7.8" rx="5.4" ry="3.9" fill="#000" opacity="1" filter="url(#b0_8)"/>
<rect x="223.6" y="386.6" width="20.8" height="8.4" rx="5.8" ry="4.2" fill="#000" opacity="1" filter="url(#b0_8)"/>
<rect x="243.0" y="387.1" width="19.2" height="7.4" rx="5.4" ry="3.7" fill="#000" opacity="1" filter="url(#b0_8)"/>
<rect x="261.8" y="386.6" width="20.0" height="8.4" rx="5.6" ry="4.2" fill="#000" opacity="1" filter="url(#b0_8)"/>
<rect x="186.2" y="408.6" width="95.2" height="4.6" rx="3.0" ry="2.3" fill="#000" opacity="1" filter="url(#b0_8)"/>
<rect x="204.0" y="407.9" width="22.0" height="5.4" rx="6.2" ry="2.7" fill="#000" opacity="1" filter="url(#b0_9)"/>
<rect x="244.0" y="408.0" width="20.0" height="5.2" rx="5.6" ry="2.6" fill="#000" opacity="1" filter="url(#b0_9)"/>
<rect x="187.0" y="427.2" width="15.6" height="5.0" rx="4.4" ry="2.5" fill="#000" opacity="1" filter="url(#b0_7)"/>
<rect x="206.2" y="428.8" width="15.4" height="3.4" rx="4.3" ry="1.7" fill="#000" opacity="0.3" filter="url(#b0_9)"/>
<rect x="225.4" y="428.6" width="16.2" height="3.4" rx="4.5" ry="1.7" fill="#000" opacity="0.24" filter="url(#b0_9)"/>
<rect x="245.4" y="428.2" width="14.2" height="3.4" rx="4.0" ry="1.7" fill="#000" opacity="0.3" filter="url(#b0_9)"/>
<rect x="263.4" y="426.8" width="15.2" height="3.8" rx="4.3" ry="1.9" fill="#000" opacity="0.38" filter="url(#b0_9)"/>
<rect x="188.2" y="447.3" width="16.4" height="7.4" rx="4.6" ry="3.7" fill="#000" opacity="1" filter="url(#b0_9)"/>
<rect x="206.0" y="448.3" width="17.8" height="8.6" rx="5.0" ry="4.3" fill="#000" opacity="1" filter="url(#b0_9)"/>
<rect x="225.2" y="447.8" width="18.6" height="8.4" rx="5.2" ry="4.2" fill="#000" opacity="1" filter="url(#b0_9)"/>
<rect x="244.2" y="447.0" width="17.6" height="8.4" rx="4.9" ry="4.2" fill="#000" opacity="1" filter="url(#b0_9)"/>
<rect x="264.4" y="443.7" width="16.2" height="11.0" rx="5.5" ry="5.5" fill="#000" opacity="1" filter="url(#b0_9)"/>
<rect x="348.45" y="384.35" width="78.40000000000003" height="13.299999999999955" fill="#fafafa" stroke="#000" stroke-width="1.5"/>
<rect x="348.45" y="403.75" width="78.40000000000003" height="14.100000000000023" fill="#fafafa" stroke="#000" stroke-width="1.5"/>
<rect x="348.45" y="423.75" width="78.40000000000003" height="13.899999999999977" fill="#fafafa" stroke="#000" stroke-width="1.5"/>
<rect x="348.45" y="443.15" width="78.40000000000003" height="13.900000000000034" fill="#fafafa" stroke="#000" stroke-width="1.5"/>
<rect x="351.0" y="387.3" width="17.0" height="7.4" rx="4.8" ry="3.7" fill="#000" opacity="1" filter="url(#b0_8)"/>
<rect x="369.6" y="387.5" width="17.0" height="7.0" rx="4.8" ry="3.5" fill="#000" opacity="1" filter="url(#b0_8)"/>
<rect x="389.8" y="387.9" width="16.2" height="6.2" rx="4.5" ry="3.1" fill="#000" opacity="1" filter="url(#b0_8)"/>
<rect x="408.8" y="387.9" width="16.6" height="6.2" rx="4.6" ry="3.1" fill="#000" opacity="1" filter="url(#b0_8)"/>
<rect x="351.4" y="407.8" width="18.6" height="6.0" rx="5.2" ry="3.0" fill="#000" opacity="1" filter="url(#b0_8)"/>
<rect x="368.4" y="407.0" width="20.2" height="7.0" rx="5.7" ry="3.5" fill="#000" opacity="1" filter="url(#b0_8)"/>
<rect x="387.0" y="407.6" width="19.6" height="6.4" rx="5.5" ry="3.2" fill="#000" opacity="1" filter="url(#b0_8)"/>
<rect x="405.4" y="407.8" width="18.6" height="6.0" rx="5.2" ry="3.0" fill="#000" opacity="1" filter="url(#b0_8)"/>
<rect x="351.0" y="427.5" width="17.8" height="6.2" rx="5.0" ry="3.1" fill="#000" opacity="1" filter="url(#b0_8)"/>
<rect x="370.0" y="427.6" width="17.4" height="6.0" rx="4.9" ry="3.0" fill="#000" opacity="1" filter="url(#b0_8)"/>
<rect x="388.2" y="428.1" width="16.2" height="5.0" rx="4.5" ry="2.5" fill="#000" opacity="1" filter="url(#b0_8)"/>
<rect x="409.0" y="429.0" width="15.0" height="4.0" rx="4.2" ry="2.0" fill="#000" opacity="1" filter="url(#b0_8)"/>
<rect x="349.8" y="446.7" width="19.0" height="7.4" rx="5.3" ry="3.7" fill="#000" opacity="1" filter="url(#b0_9)"/>
<rect x="368.2" y="446.7" width="19.2" height="7.4" rx="5.4" ry="3.7" fill="#000" opacity="1" filter="url(#b0_9)"/>
<rect x="386.8" y="446.8" width="19.2" height="7.6" rx="5.4" ry="3.8" fill="#000" opacity="1" filter="url(#b0_9)"/>
<rect x="406.4" y="447.6" width="20.0" height="8.4" rx="5.6" ry="4.2" fill="#000" opacity="1" filter="url(#b0_9)"/>
<rect x="433.15" y="384.35" width="77.5" height="13.299999999999955" fill="#fafafa" stroke="#000" stroke-width="1.5"/>
<rect x="433.15" y="403.75" width="77.5" height="14.100000000000023" fill="#fafafa" stroke="#000" stroke-width="1.5"/>
<rect x="433.15" y="423.75" width="77.5" height="13.899999999999977" fill="#fafafa" stroke="#000" stroke-width="1.5"/>
<rect x="433.15" y="443.15" width="77.5" height="13.900000000000034" fill="#fafafa" stroke="#000" stroke-width="1.5"/>
<rect x="434.8" y="388.5" width="15.4" height="5.8" rx="4.3" ry="2.9" fill="#000" opacity="1" filter="url(#b0_8)"/>
<rect x="453.0" y="388.5" width="15.8" height="5.8" rx="4.4" ry="2.9" fill="#000" opacity="1" filter="url(#b0_8)"/>
<rect x="472.2" y="388.6" width="15.6" height="5.6" rx="4.4" ry="2.8" fill="#000" opacity="1" filter="url(#b0_8)"/>
<rect x="490.8" y="387.8" width="17.4" height="6.4" rx="4.9" ry="3.2" fill="#000" opacity="1" filter="url(#b0_8)"/>
<rect x="433.8" y="408.0" width="17.8" height="5.6" rx="5.0" ry="2.8" fill="#000" opacity="1" filter="url(#b0_8)"/>
<rect x="450.0" y="407.3" width="20.4" height="6.6" rx="5.7" ry="3.3" fill="#000" opacity="1" filter="url(#b0_8)"/>
<rect x="469.0" y="407.8" width="19.6" height="6.0" rx="5.5" ry="3.0" fill="#000" opacity="1" filter="url(#b0_8)"/>
<rect x="487.0" y="408.0" width="19.4" height="5.6" rx="5.4" ry="2.8" fill="#000" opacity="1" filter="url(#b0_8)"/>
<rect x="435.2" y="428.3" width="14.6" height="4.6" rx="4.1" ry="2.3" fill="#000" opacity="1.0" filter="url(#b0_8)"/>
<rect x="452.8" y="428.5" width="13.8" height="4.2" rx="3.9" ry="2.1" fill="#000" opacity="0.95" filter="url(#b0_8)"/>
<rect x="470.8" y="428.8" width="14.6" height="3.6" rx="4.1" ry="1.8" fill="#000" opacity="0.45" filter="url(#b0_8)"/>
<rect x="488.6" y="428.9" width="15.2" height="3.4" rx="4.3" ry="1.7" fill="#000" opacity="0.2" filter="url(#b0_8)"/>
<rect x="433.0" y="447.2" width="16.4" height="7.6" rx="4.6" ry="3.8" fill="#000" opacity="1" filter="url(#b0_9)"/>
<rect x="449.0" y="447.1" width="19.8" height="7.8" rx="5.5" ry="3.9" fill="#000" opacity="1" filter="url(#b0_9)"/>
<rect x="470.4" y="447.0" width="18.0" height="8.0" rx="5.0" ry="4.0" fill="#000" opacity="1" filter="url(#b0_9)"/>
<rect x="489.2" y="447.0" width="19.4" height="8.0" rx="5.4" ry="4.0" fill="#000" opacity="1" filter="url(#b0_9)"/>
<text x="22.0" y="501.6" font-size="14.3" font-weight="bold">F</text>
<line x1="65.8" y1="502.5" x2="65.8" y2="629.6" stroke="#000" stroke-width="1"/>
<line x1="65.8" y1="629.6" x2="68.3" y2="629.6" stroke="#000" stroke-width="1"/>
<text x="63.2" y="632.34" font-size="7.6" text-anchor="end">0</text>
<line x1="65.8" y1="613.71" x2="68.3" y2="613.71" stroke="#000" stroke-width="1"/>
<text x="63.2" y="616.45" font-size="7.6" text-anchor="end">20</text>
<line x1="65.8" y1="597.82" x2="68.3" y2="597.82" stroke="#000" stroke-width="1"/>
<text x="63.2" y="600.56" font-size="7.6" text-anchor="end">40</text>
<line x1="65.8" y1="581.9300000000001" x2="68.3" y2="581.9300000000001" stroke="#000" stroke-width="1"/>
<text x="63.2" y="584.67" font-size="7.6" text-anchor="end">60</text>
<line x1="65.8" y1="566.04" x2="68.3" y2="566.04" stroke="#000" stroke-width="1"/>
<text x="63.2" y="568.78" font-size="7.6" text-anchor="end">80</text>
<line x1="65.8" y1="550.15" x2="68.3" y2="550.15" stroke="#000" stroke-width="1"/>
<text x="63.2" y="552.89" font-size="7.6" text-anchor="end">100</text>
<line x1="65.8" y1="534.26" x2="68.3" y2="534.26" stroke="#000" stroke-width="1"/>
<text x="63.2" y="537.0" font-size="7.6" text-anchor="end">120</text>
<line x1="65.8" y1="518.37" x2="68.3" y2="518.37" stroke="#000" stroke-width="1"/>
<text x="63.2" y="521.11" font-size="7.6" text-anchor="end">140</text>
<line x1="65.8" y1="502.48" x2="68.3" y2="502.48" stroke="#000" stroke-width="1"/>
<text x="63.2" y="505.22" font-size="7.6" text-anchor="end">160</text>
<line x1="65.3" y1="629.6" x2="284.0" y2="629.6" stroke="#000" stroke-width="1"/>
<line x1="81.35000000000001" y1="550.15" x2="81.35000000000001" y2="543.55565" stroke="#000" stroke-width="1"/>
<line x1="78.15" y1="543.55565" x2="84.55000000000001" y2="543.55565" stroke="#000" stroke-width="1"/>
<line x1="94.20000000000002" y1="588.4449000000001" x2="94.20000000000002" y2="587.1737" stroke="#000" stroke-width="1"/>
<line x1="91.00000000000001" y1="587.1737" x2="97.40000000000002" y2="587.1737" stroke="#000" stroke-width="1"/>
<rect x="75.4" y="550.15" width="12.4" height="79.45" fill="#fff" stroke="#000" stroke-width="1"/>
<rect x="87.80000000000001" y="588.4449000000001" width="12.8" height="41.1551" fill="#000" stroke="none" stroke-width="1"/>
<text x="87.80000000000001" y="644.4" font-size="9.0" text-anchor="middle">#1</text>
<line x1="125.25000000000001" y1="550.15" x2="125.25000000000001" y2="543.39675" stroke="#000" stroke-width="1"/>
<line x1="122.05000000000001" y1="543.39675" x2="128.45000000000002" y2="543.39675" stroke="#000" stroke-width="1"/>
<line x1="138.10000000000002" y1="585.7436" x2="138.10000000000002" y2="580.1821" stroke="#000" stroke-width="1"/>
<line x1="134.90000000000003" y1="580.1821" x2="141.3" y2="580.1821" stroke="#000" stroke-width="1"/>
<rect x="119.30000000000001" y="550.15" width="12.4" height="79.45" fill="#fff" stroke="#000" stroke-width="1"/>
<rect x="131.70000000000002" y="585.7436" width="12.8" height="43.8564" fill="#000" stroke="none" stroke-width="1"/>
<text x="131.70000000000002" y="644.4" font-size="9.0" text-anchor="middle">#2</text>
<line x1="169.14999999999998" y1="550.15" x2="169.14999999999998" y2="543.39675" stroke="#000" stroke-width="1"/>
<line x1="165.95" y1="543.39675" x2="172.34999999999997" y2="543.39675" stroke="#000" stroke-width="1"/>
<line x1="182.0" y1="566.91395" x2="182.0" y2="562.3853" stroke="#000" stroke-width="1"/>
<line x1="178.8" y1="562.3853" x2="185.2" y2="562.3853" stroke="#000" stroke-width="1"/>
<rect x="163.2" y="550.15" width="12.4" height="79.45" fill="#fff" stroke="#000" stroke-width="1"/>
<rect x="175.6" y="566.91395" width="12.8" height="62.68605" fill="#000" stroke="none" stroke-width="1"/>
<text x="175.6" y="644.4" font-size="9.0" text-anchor="middle">#3</text>
<line x1="213.04999999999998" y1="550.15" x2="213.04999999999998" y2="542.205" stroke="#000" stroke-width="1"/>
<line x1="209.85" y1="542.205" x2="216.24999999999997" y2="542.205" stroke="#000" stroke-width="1"/>
<line x1="225.9" y1="582.5656" x2="225.9" y2="572.7932500000001" stroke="#000" stroke-width="1"/>
<line x1="222.70000000000002" y1="572.7932500000001" x2="229.1" y2="572.7932500000001" stroke="#000" stroke-width="1"/>
<rect x="207.1" y="550.15" width="12.4" height="79.45" fill="#fff" stroke="#000" stroke-width="1"/>
<rect x="219.5" y="582.5656" width="12.8" height="47.0344" fill="#000" stroke="none" stroke-width="1"/>
<text x="219.5" y="644.4" font-size="9.0" text-anchor="middle">#4</text>
<line x1="256.95" y1="550.15" x2="256.95" y2="519.1645" stroke="#000" stroke-width="1"/>
<line x1="253.75" y1="519.1645" x2="260.15" y2="519.1645" stroke="#000" stroke-width="1"/>
<line x1="269.79999999999995" y1="613.5511" x2="269.79999999999995" y2="610.92925" stroke="#000" stroke-width="1"/>
<line x1="266.59999999999997" y1="610.92925" x2="272.99999999999994" y2="610.92925" stroke="#000" stroke-width="1"/>
<rect x="251.0" y="550.15" width="12.4" height="79.45" fill="#fff" stroke="#000" stroke-width="1"/>
<rect x="263.4" y="613.5511" width="12.8" height="16.0489" fill="#000" stroke="none" stroke-width="1"/>
<text x="263.4" y="644.4" font-size="9.0" text-anchor="middle">#5</text>
<text x="92.0" y="582.3" font-size="9.0" font-weight="bold" text-anchor="middle">*</text>
<text x="96.75" y="582.3" font-size="9.0" font-weight="bold" text-anchor="middle">*</text>
<text x="135.6" y="576.3" font-size="9.0" font-weight="bold" text-anchor="middle">*</text>
<text x="140.35" y="576.3" font-size="9.0" font-weight="bold" text-anchor="middle">*</text>
<text x="181.8" y="557.5" font-size="9.0" font-weight="bold" text-anchor="middle">*</text>
<text x="223.2" y="568.5" font-size="9.0" font-weight="bold" text-anchor="middle">*</text>
<text x="227.95" y="568.5" font-size="9.0" font-weight="bold" text-anchor="middle">*</text>
<text x="269.0" y="607.0" font-size="9.0" font-weight="bold" text-anchor="middle">*</text>
<text x="167.8" y="657.8" font-size="9.2" text-anchor="middle">Patient ID</text>
<text transform="translate(38.6,556.8) rotate(-90)" font-size="9.6" text-anchor="middle">% of Control</text>
<rect x="86.1" y="503.0" width="7.4" height="7.2" fill="#fff" stroke="#000" stroke-width="1"/>
<rect x="85.6" y="515.0" width="8.2" height="7.8" fill="#000" stroke="none" stroke-width="1"/>
<text x="100.6" y="509.6" font-size="7.8" font-weight="bold">UNC1999</text>
<text x="138.8" y="509.6" font-size="8.0" font-weight="bold">0 μmol/L</text>
<text x="100.6" y="522.6" font-size="7.8" font-weight="bold">UNC1999</text>
<text x="138.8" y="522.6" font-size="8.0" font-weight="bold">5 μmol/L</text>
<text x="289.3" y="501.8" font-size="14.3" font-weight="bold">G</text>
<line x1="335.9" y1="520.8" x2="335.9" y2="628.8" stroke="#000" stroke-width="1"/>
<line x1="335.9" y1="628.8" x2="338.4" y2="628.8" stroke="#000" stroke-width="1"/>
<text x="332.4" y="631.5" font-size="7.5" text-anchor="end">0</text>
<line x1="335.9" y1="607.1999999999999" x2="338.4" y2="607.1999999999999" stroke="#000" stroke-width="1"/>
<text x="332.4" y="609.9" font-size="7.5" text-anchor="end">200</text>
<line x1="335.9" y1="585.5999999999999" x2="338.4" y2="585.5999999999999" stroke="#000" stroke-width="1"/>
<text x="332.4" y="588.3" font-size="7.5" text-anchor="end">400</text>
<line x1="335.9" y1="564.0" x2="338.4" y2="564.0" stroke="#000" stroke-width="1"/>
<text x="332.4" y="566.7" font-size="7.5" text-anchor="end">600</text>
<line x1="335.9" y1="542.4" x2="338.4" y2="542.4" stroke="#000" stroke-width="1"/>
<text x="332.4" y="545.1" font-size="7.5" text-anchor="end">800</text>
<line x1="335.9" y1="520.8" x2="338.4" y2="520.8" stroke="#000" stroke-width="1"/>
<text x="332.4" y="523.5" font-size="7.5" text-anchor="end">1,000</text>
<line x1="335.4" y1="628.8" x2="513.6" y2="628.8" stroke="#000" stroke-width="1"/>
<line x1="361.0" y1="628.8" x2="361.0" y2="626.5999999999999" stroke="#000" stroke-width="1"/>
<line x1="386.4" y1="628.8" x2="386.4" y2="626.5999999999999" stroke="#000" stroke-width="1"/>
<line x1="411.8" y1="628.8" x2="411.8" y2="626.5999999999999" stroke="#000" stroke-width="1"/>
<line x1="437.2" y1="628.8" x2="437.2" y2="626.5999999999999" stroke="#000" stroke-width="1"/>
<line x1="462.6" y1="628.8" x2="462.6" y2="626.5999999999999" stroke="#000" stroke-width="1"/>
<line x1="488.0" y1="628.8" x2="488.0" y2="626.5999999999999" stroke="#000" stroke-width="1"/>
<line x1="513.4" y1="628.8" x2="513.4" y2="626.5999999999999" stroke="#000" stroke-width="1"/>
<text x="348.6" y="641.3" font-size="7.8" text-anchor="middle">1</text>
<text x="373.93" y="641.3" font-size="7.8" text-anchor="middle">4</text>
<text x="399.26" y="641.3" font-size="7.8" text-anchor="middle">8</text>
<text x="424.59000000000003" y="641.3" font-size="7.8" text-anchor="middle">11</text>
<text x="449.92" y="641.3" font-size="7.8" text-anchor="middle">15</text>
<text x="475.25" y="641.3" font-size="7.8" text-anchor="middle">18</text>
<text x="500.58000000000004" y="641.3" font-size="7.8" text-anchor="middle">22</text>
<text x="426.1" y="656.2" font-size="9.0" text-anchor="middle">Days of treatment</text>
<text transform="translate(307.8,568.5) rotate(-90)" font-size="9.6" text-anchor="middle">Tumor volume (mm<tspan font-size="6" dy="-3.3">3</tspan><tspan dy="3.3">)</tspan></text>
<polyline points="348.6,621.2 373.9,617.8 399.3,608.0 424.6,597.7 449.9,584.0 475.2,559.1 500.6,531.0" fill="none" stroke="#8a8a8a" stroke-width="1.6" stroke-linejoin="round"/>
<line x1="373.93" y1="616.4879999999999" x2="373.93" y2="619.08" stroke="#8a8a8a" stroke-width="1.0"/>
<line x1="372.13" y1="616.4879999999999" x2="375.73" y2="616.4879999999999" stroke="#8a8a8a" stroke-width="1.0"/>
<line x1="372.13" y1="619.08" x2="375.73" y2="619.08" stroke="#8a8a8a" stroke-width="1.0"/>
<line x1="399.26" y1="603.42" x2="399.26" y2="612.4919999999998" stroke="#8a8a8a" stroke-width="1.0"/>
<line x1="397.46" y1="603.42" x2="401.06" y2="603.42" stroke="#8a8a8a" stroke-width="1.0"/>
<line x1="397.46" y1="612.4919999999998" x2="401.06" y2="612.4919999999998" stroke="#8a8a8a" stroke-width="1.0"/>
<line x1="424.59000000000003" y1="593.3759999999999" x2="424.59000000000003" y2="602.016" stroke="#8a8a8a" stroke-width="1.0"/>
<line x1="422.79" y1="593.3759999999999" x2="426.39000000000004" y2="593.3759999999999" stroke="#8a8a8a" stroke-width="1.0"/>
<line x1="422.79" y1="602.016" x2="426.39000000000004" y2="602.016" stroke="#8a8a8a" stroke-width="1.0"/>
<line x1="449.92" y1="580.0919999999999" x2="449.92" y2="587.8679999999999" stroke="#8a8a8a" stroke-width="1.0"/>
<line x1="448.12" y1="580.0919999999999" x2="451.72" y2="580.0919999999999" stroke="#8a8a8a" stroke-width="1.0"/>
<line x1="448.12" y1="587.8679999999999" x2="451.72" y2="587.8679999999999" stroke="#8a8a8a" stroke-width="1.0"/>
<line x1="475.25" y1="552.444" x2="475.25" y2="565.836" stroke="#8a8a8a" stroke-width="1.0"/>
<line x1="473.45" y1="552.444" x2="477.05" y2="552.444" stroke="#8a8a8a" stroke-width="1.0"/>
<line x1="473.45" y1="565.836" x2="477.05" y2="565.836" stroke="#8a8a8a" stroke-width="1.0"/>
<line x1="500.58000000000004" y1="522.312" x2="500.58000000000004" y2="539.592" stroke="#8a8a8a" stroke-width="1.0"/>
<line x1="498.78000000000003" y1="522.312" x2="502.38000000000005" y2="522.312" stroke="#8a8a8a" stroke-width="1.0"/>
<line x1="498.78000000000003" y1="539.592" x2="502.38000000000005" y2="539.592" stroke="#8a8a8a" stroke-width="1.0"/>
<polygon points="348.6,618.4 351.5,621.2 348.6,624.1 345.7,621.2" fill="#8a8a8a"/>
<polygon points="373.9,614.9 376.8,617.8 373.9,620.6 371.1,617.8" fill="#8a8a8a"/>
<polygon points="399.3,605.1 402.1,608.0 399.3,610.8 396.4,608.0" fill="#8a8a8a"/>
<polygon points="424.6,594.8 427.5,597.7 424.6,600.6 421.7,597.7" fill="#8a8a8a"/>
<polygon points="449.9,581.1 452.8,584.0 449.9,586.8 447.1,584.0" fill="#8a8a8a"/>
<polygon points="475.2,556.3 478.1,559.1 475.2,562.0 472.4,559.1" fill="#8a8a8a"/>
<polygon points="500.6,528.1 503.4,531.0 500.6,533.8 497.7,531.0" fill="#8a8a8a"/>
<polyline points="348.6,621.3 373.9,619.9 399.3,617.1 424.6,610.1 449.9,595.4 475.2,586.4 500.6,569.3" fill="none" stroke="#000" stroke-width="1.9" stroke-linejoin="round"/>
<line x1="373.93" y1="618.8639999999999" x2="373.93" y2="621.024" stroke="#000" stroke-width="1.0"/>
<line x1="372.13" y1="618.8639999999999" x2="375.73" y2="618.8639999999999" stroke="#000" stroke-width="1.0"/>
<line x1="372.13" y1="621.024" x2="375.73" y2="621.024" stroke="#000" stroke-width="1.0"/>
<line x1="399.26" y1="615.8399999999999" x2="399.26" y2="618.432" stroke="#000" stroke-width="1.0"/>
<line x1="397.46" y1="615.8399999999999" x2="401.06" y2="615.8399999999999" stroke="#000" stroke-width="1.0"/>
<line x1="397.46" y1="618.432" x2="401.06" y2="618.432" stroke="#000" stroke-width="1.0"/>
<line x1="424.59000000000003" y1="605.7959999999999" x2="424.59000000000003" y2="614.436" stroke="#000" stroke-width="1.0"/>
<line x1="422.79" y1="605.7959999999999" x2="426.39000000000004" y2="605.7959999999999" stroke="#000" stroke-width="1.0"/>
<line x1="422.79" y1="614.436" x2="426.39000000000004" y2="614.436" stroke="#000" stroke-width="1.0"/>
<line x1="449.92" y1="588.732" x2="449.92" y2="602.124" stroke="#000" stroke-width="1.0"/>
<line x1="448.12" y1="588.732" x2="451.72" y2="588.732" stroke="#000" stroke-width="1.0"/>
<line x1="448.12" y1="602.124" x2="451.72" y2="602.124" stroke="#000" stroke-width="1.0"/>
<line x1="475.25" y1="578.256" x2="475.25" y2="594.456" stroke="#000" stroke-width="1.0"/>
<line x1="473.45" y1="578.256" x2="477.05" y2="578.256" stroke="#000" stroke-width="1.0"/>
<line x1="473.45" y1="594.456" x2="477.05" y2="594.456" stroke="#000" stroke-width="1.0"/>
<line x1="500.58000000000004" y1="555.468" x2="500.58000000000004" y2="583.1159999999999" stroke="#000" stroke-width="1.0"/>
<line x1="498.78000000000003" y1="555.468" x2="502.38000000000005" y2="555.468" stroke="#000" stroke-width="1.0"/>
<line x1="498.78000000000003" y1="583.1159999999999" x2="502.38000000000005" y2="583.1159999999999" stroke="#000" stroke-width="1.0"/>
<rect x="346.3" y="619.0" width="4.6" height="4.6" fill="#000"/>
<rect x="371.6" y="617.6" width="4.6" height="4.6" fill="#000"/>
<rect x="397.0" y="614.8" width="4.6" height="4.6" fill="#000"/>
<rect x="422.3" y="607.8" width="4.6" height="4.6" fill="#000"/>
<rect x="447.6" y="593.1" width="4.6" height="4.6" fill="#000"/>
<rect x="472.9" y="584.1" width="4.6" height="4.6" fill="#000"/>
<rect x="498.3" y="567.0" width="4.6" height="4.6" fill="#000"/>
<text x="473.8" y="531.5" font-size="8.5" font-weight="bold" text-anchor="middle">Vehicle</text>
<text x="473.5" y="609.5" font-size="8.3" font-weight="bold" text-anchor="middle">UNC1999</text>
<polyline points="506.8,531.0 511.7,531.0 511.7,567.6 506.8,567.6" fill="none" stroke="#000" stroke-width="1"/>
<text x="516.6" y="552.0" font-size="9.0" font-weight="bold" text-anchor="middle">*</text>
</svg>
</body></html>
